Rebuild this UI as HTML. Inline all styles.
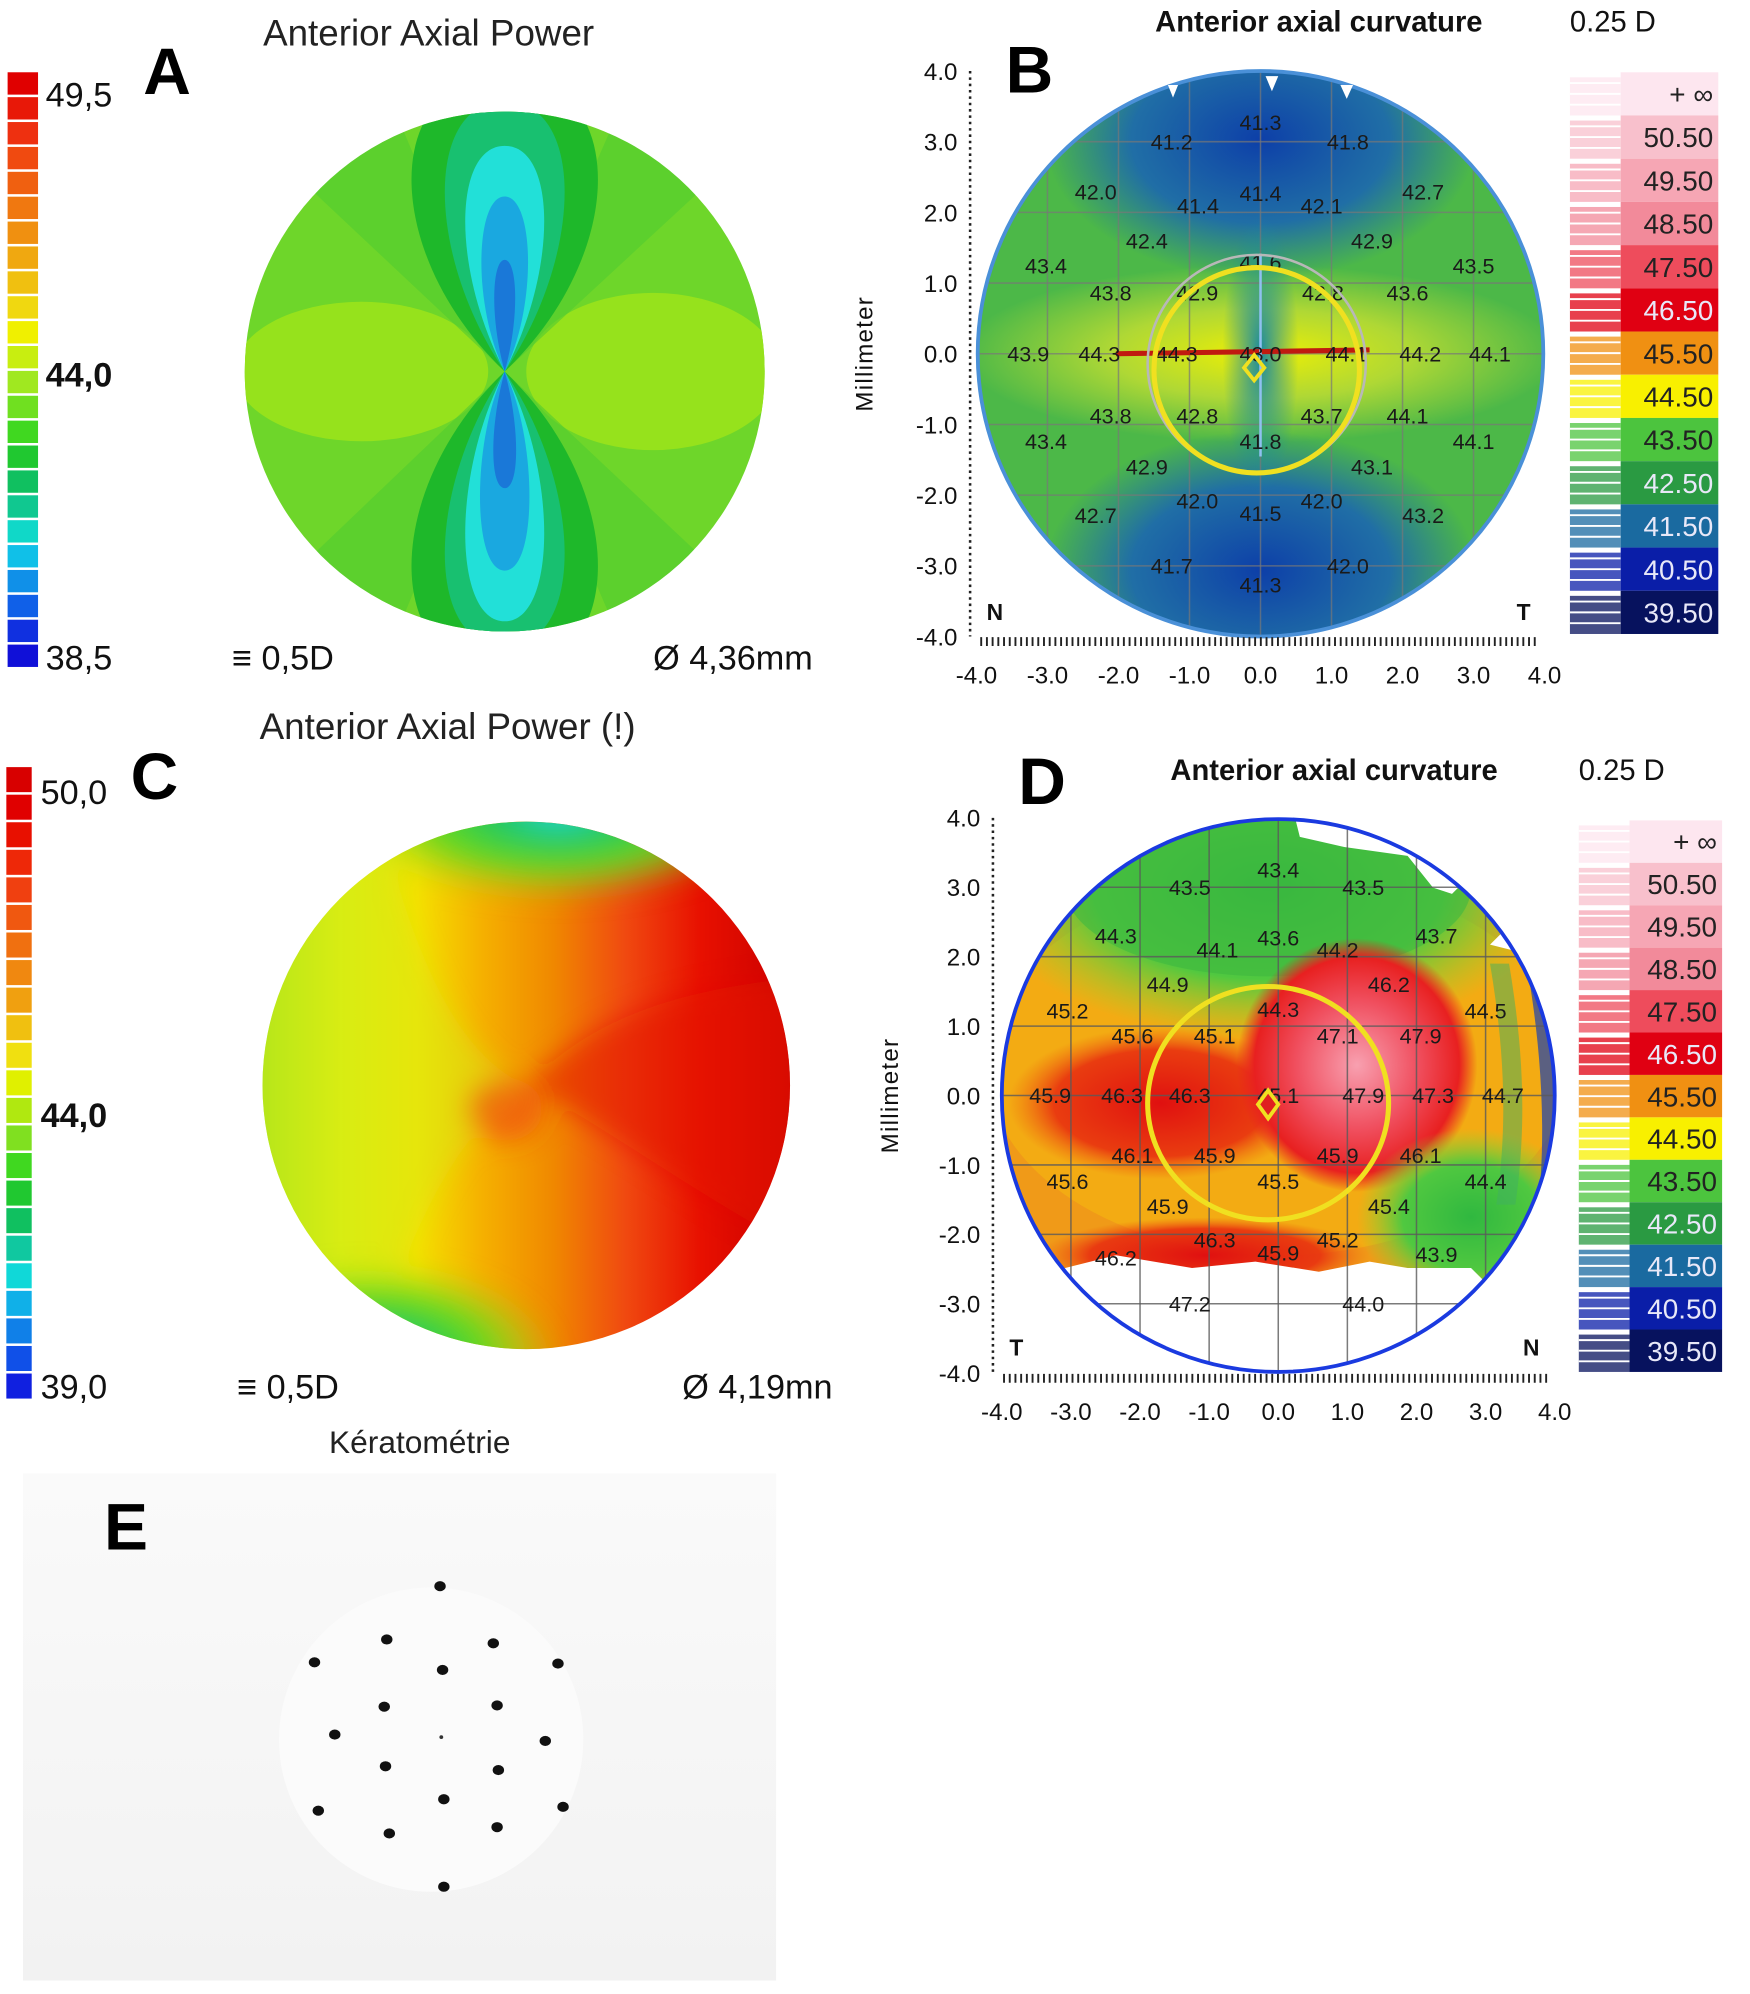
<!DOCTYPE html>
<html><head><meta charset="utf-8">
<style>
html,body{margin:0;padding:0;background:#fff;}
svg{display:block;font-family:"Liberation Sans",sans-serif;}
</style></head>
<body>
<svg id="fig" width="1750" height="1994" viewBox="0 0 1380 1572.6" preserveAspectRatio="none" xmlns="http://www.w3.org/2000/svg">
<defs>
  <clipPath id="clipA"><circle cx="398" cy="293" r="205"/></clipPath>
  <clipPath id="clipB"><circle cx="994" cy="279" r="223"/></clipPath>
  <clipPath id="clipC"><circle cx="415" cy="856" r="208"/></clipPath>
  <clipPath id="clipD"><circle cx="1008" cy="864" r="218"/></clipPath>
  <filter id="blur6" x="-20%" y="-20%" width="140%" height="140%"><feGaussianBlur stdDeviation="10"/></filter>
  <radialGradient id="gBlue"><stop offset="0" stop-color="#0d3fa8"/><stop offset="0.6" stop-color="#1b66b0" stop-opacity="0.9"/><stop offset="1" stop-color="#1b66b0" stop-opacity="0"/></radialGradient>
  <radialGradient id="gYel"><stop offset="0" stop-color="#f0f000"/><stop offset="0.5" stop-color="#c8e030" stop-opacity="0.8"/><stop offset="1" stop-color="#c8e030" stop-opacity="0"/></radialGradient>
  <radialGradient id="gTeal"><stop offset="0" stop-color="#1a8aa0"/><stop offset="1" stop-color="#1a8aa0" stop-opacity="0"/></radialGradient>
  <radialGradient id="gGreen"><stop offset="0" stop-color="#30b840"/><stop offset="0.6" stop-color="#50c840"/><stop offset="1" stop-color="#90d830" stop-opacity="0"/></radialGradient>
  <radialGradient id="gRed"><stop offset="0" stop-color="#e01010"/><stop offset="0.7" stop-color="#e83010" stop-opacity="0.9"/><stop offset="1" stop-color="#f06010" stop-opacity="0"/></radialGradient>
  <radialGradient id="gPink"><stop offset="0" stop-color="#f8a0b0"/><stop offset="0.5" stop-color="#f05060"/><stop offset="0.85" stop-color="#e82020"/><stop offset="1" stop-color="#e82020" stop-opacity="0"/></radialGradient>
  <linearGradient id="gC" x1="0" y1="0" x2="1" y2="0">
    <stop offset="0" stop-color="#90e020"/><stop offset="0.16" stop-color="#d8ee10"/><stop offset="0.3" stop-color="#f5e000"/><stop offset="0.42" stop-color="#f5b000"/>
    <stop offset="0.55" stop-color="#f08800"/><stop offset="0.68" stop-color="#f04a10"/><stop offset="0.82" stop-color="#e81000"/><stop offset="1" stop-color="#c80000"/>
  </linearGradient>
  <radialGradient id="gCgreen"><stop offset="0" stop-color="#20d8e0"/><stop offset="0.3" stop-color="#20c860"/><stop offset="0.6" stop-color="#60d820"/><stop offset="1" stop-color="#a0e020" stop-opacity="0"/></radialGradient>
  <linearGradient id="gE" x1="0" y1="0" x2="0" y2="1"><stop offset="0" stop-color="#fafafa"/><stop offset="1" stop-color="#f2f2f2"/></linearGradient>
</defs>

<!-- ===== Panel A ===== -->
<g>
  <text x="338" y="36" font-size="29" text-anchor="middle" fill="#222">Anterior Axial Power</text>
  <text x="113" y="74" font-size="52" font-weight="bold" fill="#000">A</text>
  <g id="barA"></g>
  <text x="36" y="84" font-size="27" fill="#111">49,5</text>
  <text x="36" y="305" font-size="27" font-weight="bold" fill="#111">44,0</text>
  <text x="36" y="528" font-size="27" fill="#111">38,5</text>
  <g clip-path="url(#clipA)">
    <rect x="190" y="85" width="420" height="420" fill="#6ed62a"/>
    <ellipse cx="285" cy="293" rx="100" ry="55" fill="#96e21c"/>
    <ellipse cx="515" cy="293" rx="100" ry="62" fill="#96e21c"/>
    <path d="M398 293 L150 60 L300 60 Z M398 293 L500 60 L650 60 Z M398 293 L150 530 L300 530 Z M398 293 L500 530 L650 530 Z" fill="#50cc30" opacity="0.6"/>
    <path d="M398 293 C300 200 300 60 398 60 C496 60 496 200 398 293 Z" fill="#1eb82a"/>
    <path d="M398 293 C300 386 300 530 398 530 C496 530 496 386 398 293 Z" fill="#1eb82a"/>
    <path d="M398 293 C335 200 335 80 398 80 C461 80 461 200 398 293 Z" fill="#18c070"/>
    <path d="M398 293 C335 386 335 510 398 510 C461 510 461 386 398 293 Z" fill="#18c070"/>
    <path d="M398 293 C355 210 358 115 398 115 C438 115 441 210 398 293 Z" fill="#22e0d8"/>
    <path d="M398 293 C355 376 358 490 398 490 C438 490 441 376 398 293 Z" fill="#22e0d8"/>
    <path d="M398 293 C372 240 375 155 398 155 C421 155 424 240 398 293 Z" fill="#1aa8e0"/>
    <path d="M398 293 C372 346 372 450 398 450 C424 450 424 346 398 293 Z" fill="#1aa8e0"/>
    <path d="M398 293 C386 250 388 205 398 205 C408 205 410 250 398 293 Z" fill="#1a78d8"/>
    <path d="M398 293 C386 336 386 385 398 385 C410 385 410 336 398 293 Z" fill="#1a78d8"/>
  </g>
  <text x="183" y="528" font-size="27" fill="#111">≡ 0,5D</text>
  <text x="515" y="528" font-size="27" fill="#111">Ø 4,36mm</text>
</g>

<!-- ===== Panel B ===== -->
<g>
  <text x="1040" y="25" font-size="23" font-weight="bold" text-anchor="middle" fill="#111">Anterior axial curvature</text>
  <text x="1238" y="25" font-size="23" fill="#111">0.25 D</text>
  <text x="793" y="73" font-size="52" font-weight="bold" fill="#000">B</text>
  <g clip-path="url(#clipB)">
    <rect x="760" y="50" width="470" height="460" fill="#4cb848"/>
    <ellipse cx="994" cy="279" rx="235" ry="70" fill="url(#gYel)"/>
    <ellipse cx="994" cy="110" rx="170" ry="110" fill="url(#gBlue)"/>
    <ellipse cx="994" cy="450" rx="170" ry="110" fill="url(#gBlue)"/>
    <ellipse cx="994" cy="279" rx="30" ry="110" fill="url(#gTeal)"/>
    <g id="gridB"></g>
    <line x1="880" y1="279" x2="1080" y2="276" stroke="#c01a10" stroke-width="4"/>
    <line x1="994" y1="200" x2="994" y2="360" stroke="#8fc0f0" stroke-width="2"/>
  </g>
  <circle cx="994" cy="279" r="223" fill="none" stroke="#4a90d8" stroke-width="3"/>
  <g id="labelsB"></g>
  <circle cx="991" cy="287" r="86" fill="none" stroke="#b8b8b8" stroke-width="2"/>
  <ellipse cx="991" cy="292" rx="81" ry="81" fill="none" stroke="#f0e020" stroke-width="4"/>
  <path d="M989 280 L997 290 L989 300 L981 290 Z" fill="none" stroke="#f0e020" stroke-width="3"/>
  <path d="M921 67 L929 67 L925 77 Z M998 60 L1008 60 L1003 72 Z M1057 67 L1067 67 L1062 78 Z" fill="#fff"/>
  <text x="778" y="489" font-size="18" font-weight="bold" fill="#111">N</text>
  <text x="1196" y="489" font-size="18" font-weight="bold" fill="#111">T</text>
  <g id="axesB"></g>
  <text transform="translate(688,279) rotate(-90)" font-size="19" text-anchor="middle" fill="#111" letter-spacing="1">Millimeter</text>
  <g id="legendB"></g>
</g>

<!-- ===== Panel C ===== -->
<g>
  <text x="353" y="583" font-size="29" text-anchor="middle" fill="#222">Anterior Axial Power (!)</text>
  <text x="103" y="630" font-size="52" font-weight="bold" fill="#000">C</text>
  <g id="barC"></g>
  <text x="32" y="634" font-size="27" fill="#111">50,0</text>
  <text x="32" y="889" font-size="27" font-weight="bold" fill="#111">44,0</text>
  <text x="32" y="1103" font-size="27" fill="#111">39,0</text>
  <g clip-path="url(#clipC)">
    <rect x="200" y="640" width="430" height="430" fill="url(#gC)"/>
    <g filter="url(#blur6)">
      <path d="M415 856 C360 830 330 760 300 650 L190 650 L190 1070 L290 1070 C320 990 350 900 415 856 Z" fill="#d8ec10" opacity="0.5"/>
      <path d="M415 856 C460 810 520 780 640 770 L640 990 C560 950 480 890 415 856 Z" fill="#e41000" opacity="0.55"/>
      <ellipse cx="398" cy="875" rx="30" ry="25" fill="#f04010" opacity="0.6"/>
      <ellipse cx="440" cy="640" rx="170" ry="70" fill="url(#gCgreen)"/>
      <ellipse cx="290" cy="1070" rx="150" ry="75" fill="url(#gCgreen)"/>
    </g>
  </g>
  <text x="187" y="1103" font-size="27" fill="#111">≡ 0,5D</text>
  <text x="538" y="1103" font-size="27" fill="#111">Ø 4,19mn</text>
  <text x="331" y="1146" font-size="25" text-anchor="middle" fill="#222">Kératométrie</text>
</g>

<!-- ===== Panel D ===== -->
<g>
  <text x="1052" y="615" font-size="23" font-weight="bold" text-anchor="middle" fill="#111">Anterior axial curvature</text>
  <text x="1245" y="615" font-size="23" fill="#111">0.25 D</text>
  <text x="803" y="634" font-size="52" font-weight="bold" fill="#000">D</text>
  <g clip-path="url(#clipD)">
    <rect x="780" y="640" width="460" height="450" fill="#f09a18"/>
    <ellipse cx="1008" cy="840" rx="230" ry="150" fill="#f5b810" opacity="0.6"/>
    <ellipse cx="1000" cy="700" rx="230" ry="120" fill="url(#gGreen)"/>
    <ellipse cx="1000" cy="700" rx="160" ry="70" fill="#40b840" opacity="0.6"/>
    <ellipse cx="915" cy="870" rx="120" ry="60" fill="url(#gRed)"/>
    <ellipse cx="950" cy="990" rx="130" ry="30" fill="url(#gRed)"/>
    <ellipse cx="1070" cy="840" rx="95" ry="100" fill="url(#gPink)"/>
    <ellipse cx="1160" cy="960" rx="90" ry="70" fill="url(#gGreen)"/>
    <path d="M1200 740 C1212 800 1222 880 1212 960 L1240 960 L1240 720 Z" fill="#1a40b0" opacity="0.7"/>
    <path d="M1190 760 C1200 820 1205 880 1195 950 L1180 950 C1190 880 1185 820 1175 760 Z" fill="#40b060" opacity="0.5"/>
    <path d="M780 995 L840 1000 L880 990 L940 1000 L990 995 L1040 1003 L1080 995 L1110 1000 L1160 1000 L1170 1010 L1240 1010 L1240 1100 L780 1100 Z" fill="#fff"/>
    <path d="M1020 640 L1025 660 L1060 668 L1110 675 L1130 700 L1145 705 L1160 690 L1240 690 L1240 640 Z" fill="#fff"/>
    <path d="M1175 745 L1185 735 L1195 750 Z" fill="#fff"/>
    <g id="gridD"></g>
  </g>
  <circle cx="1008" cy="864" r="218" fill="none" stroke="#1a3ae0" stroke-width="3"/>
  <g id="labelsD"></g>
  <ellipse cx="1000" cy="870" rx="95" ry="92" fill="none" stroke="#f0e020" stroke-width="4"/>
  <path d="M1000 860 L1008 871 L1000 882 L992 871 Z" fill="#e02020" stroke="#f0e020" stroke-width="3"/>
  <text x="796" y="1069" font-size="18" font-weight="bold" fill="#111">T</text>
  <text x="1201" y="1069" font-size="18" font-weight="bold" fill="#111">N</text>
  <g id="axesD"></g>
  <text transform="translate(708,864) rotate(-90)" font-size="19" text-anchor="middle" fill="#111" letter-spacing="1">Millimeter</text>
  <g id="legendD"></g>
</g>

<!-- ===== Panel E ===== -->
<g>
  <rect x="18" y="1162" width="594" height="400" fill="url(#gE)"/>
  <circle cx="340" cy="1372" r="120" fill="#fbfbfb"/>
  <text x="82" y="1222" font-size="52" font-weight="bold" fill="#000">E</text>
  <g id="dotsE"></g>
</g>

<script>
// ---- data ----
const bLabels = ["41.2","41.3","41.8","42.0","41.4","41.4","42.1","42.7","42.4","42.9","43.4","41.6","43.5","43.8","42.9","42.8","43.6","43.9","44.3","44.3","43.0","44.1","44.2","44.1","43.8","42.8","43.7","44.1","43.4","41.8","44.1","42.9","43.1","42.0","41.5","42.0","42.7","43.2","41.7","42.0","41.3"];
const bX = [-1.25,0,1.23,-2.32,-0.88,0,0.86,2.29,-1.6,1.57,-3.02,0,3.0,-2.11,-0.89,0.88,2.07,-3.27,-2.27,-1.18,0,1.21,2.25,3.23,-2.11,-0.89,0.86,2.07,-3.02,0,3.0,-1.6,1.57,-0.89,0,0.86,-2.32,2.29,-1.25,1.23,0];
const bY = [3.0,3.27,3.0,2.29,2.09,2.27,2.09,2.29,1.6,1.6,1.24,1.29,1.24,0.86,0.86,0.86,0.86,0,0,0,0,0,0,0,-0.88,-0.88,-0.88,-0.88,-1.24,-1.24,-1.24,-1.6,-1.6,-2.08,-2.26,-2.08,-2.29,-2.29,-3.0,-3.0,-3.27];
const dLabels = ["43.4","43.5","43.5","44.3","44.1","43.6","44.2","43.7","44.9","46.2","45.2","44.3","44.5","45.6","45.1","47.1","47.9","45.9","46.3","46.3","45.1","47.9","47.3","44.7","46.1","45.9","45.9","46.1","45.6","45.5","44.4","45.9","45.4","46.3","45.2","45.9","46.2","43.9","47.2","44.0"];
const dX = [0,-1.28,1.23,-2.35,-0.88,0,0.86,2.29,-1.6,1.6,-3.05,0,3.0,-2.11,-0.92,0.86,2.06,-3.3,-2.26,-1.28,0,1.23,2.24,3.25,-2.11,-0.92,0.86,2.06,-3.05,0,3.0,-1.6,1.6,-0.92,0.86,0,-2.35,2.29,-1.28,1.23];
const dY = [3.25,3.0,3.0,2.3,2.1,2.27,2.1,2.3,1.6,1.6,1.22,1.24,1.22,0.86,0.86,0.86,0.86,0,0,0,0,0,0,0,-0.86,-0.86,-0.86,-0.86,-1.24,-1.24,-1.24,-1.6,-1.6,-2.08,-2.08,-2.27,-2.34,-2.29,-3.0,-3.0];
const axisTicks = [-4,-3,-2,-1,0,1,2,3,4];
const axisTickLabels = ["-4.0","-3.0","-2.0","-1.0","0.0","1.0","2.0","3.0","4.0"];
const legendLabels = ["+ ∞","50.50","49.50","48.50","47.50","46.50","45.50","44.50","43.50","42.50","41.50","40.50","39.50"];
const legendColors = ["#fde6ef","#f8c0cc","#f6a6b4","#f28a9a","#ee4c5c","#e00012","#f09012","#f8f000","#4cc43e","#2a9a42","#1a6aa0","#0a1ea8","#07125e"];
const scaleAColors = ["#e00000","#e81808","#ee3010","#f04a10","#f06010","#f07810","#f09010","#f0a810","#f0c010","#f0d810","#f0f000","#c8ee10","#a0e820","#70e020","#40d820","#20c830","#10c060","#10c890","#10d8c8","#10c0e8","#1090e8","#1060e8","#1030e0","#1010d8"];
const scaleCColors = ["#d80000","#e00000","#e81000","#ee2808","#f04010","#f05810","#f07010","#f08810","#f0a010","#f0c010","#f0e010","#e0f000","#b0e810","#80e020","#40d820","#20c830","#10c060","#10c8a0","#10d8d8","#10b0e8","#1080e8","#1050e8","#1020e0"];
const dotsEx = [347,305,389,248,440,349,303,392,264,430,304,393,251,350,444,307,392,350];
const dotsEy = [1251,1293,1296,1311,1312,1317,1346,1345,1368,1373,1393,1396,1428,1419,1425,1446,1441,1488];

const NS = "http://www.w3.org/2000/svg";
function mk(tag, attrs, parent){const e=document.createElementNS(NS,tag);for(const k in attrs)e.setAttribute(k,attrs[k]);parent.appendChild(e);return e;}

function colorBar(id,colors,x,y0,y1,w){
  const g=document.getElementById(id);const h=(y1-y0)/colors.length;
  colors.forEach((c,i)=>{const r=mk("rect",{x:x,y:y0+i*h,width:w,height:h-2,fill:c},g);
    
    });
}
colorBar("barA",scaleAColors,6,57,528,24);
colorBar("barC",scaleCColors,5,605,1105,20);

function mapPanel(cfg){
  const sx=v=>cfg.cx+v*cfg.kx, sy=v=>cfg.cy-v*cfg.ky;
  const grid=document.getElementById(cfg.grid);
  axisTicks.forEach(t=>{
    mk("line",{x1:sx(t),y1:sy(4.2),x2:sx(t),y2:sy(-4.2),stroke:cfg.gridCol,"stroke-width":1.2},grid);
    mk("line",{x1:sx(-4.2),y1:sy(t),x2:sx(4.2),y2:sy(t),stroke:cfg.gridCol,"stroke-width":1.2},grid);
  });
  const lg=document.getElementById(cfg.labels);
  cfg.vals.forEach((v,i)=>{const t=mk("text",{x:sx(cfg.xs[i]),y:sy(cfg.ys[i])+6,"font-size":17,"text-anchor":"middle",fill:"#1a1a1a"},lg);
    t.textContent=v;
    
    });
  const ax=document.getElementById(cfg.axes);
  const xa=cfg.ax, ya=sy(-4)+4;
  mk("line",{x1:xa,y1:sy(4),x2:xa,y2:sy(-4),stroke:"#222","stroke-width":2,"stroke-dasharray":"2,3"},ax);
  mk("line",{x1:xa+8,y1:ya,x2:sx(4)-5,y2:ya,stroke:"#222","stroke-width":7,"stroke-dasharray":"1.5,3"},ax);
  axisTicks.forEach((t,i)=>{
    const a=mk("text",{x:sx(t),y:ya+33,"font-size":19,"text-anchor":"middle",fill:"#111"},ax);a.textContent=axisTickLabels[i];
    
    
    const b=mk("text",{x:xa-10,y:sy(t)+7,"font-size":19,"text-anchor":"end",fill:"#111"},ax);b.textContent=axisTickLabels[i];
    
    
  });
  const leg=document.getElementById(cfg.legend);
  const h=(cfg.ly1-cfg.ly0)/legendLabels.length;
  legendLabels.forEach((l,i)=>{
    const y=cfg.ly0+i*h;
    mk("rect",{x:cfg.lx,y:y+4,width:40,height:h-4,fill:legendColors[i],opacity:0.75},leg);
    for(let k=1;k<4;k++) mk("line",{x1:cfg.lx,y1:y+k*h/4,x2:cfg.lx+40,y2:y+k*h/4,stroke:"#fff","stroke-width":1.5},leg);
    const r=mk("rect",{x:cfg.lx+40,y:y,width:cfg.lw-40,height:h,fill:legendColors[i]},leg);
    
    
    const dark=i>=9||i==5;
    const t=mk("text",{x:cfg.lx+cfg.lw-4,y:y+h/2+8,"font-size":22,"text-anchor":"end",fill:dark?"#e8e8f8":"#222"},leg);
    t.textContent=l;
    
    
  });
}
mapPanel({cx:994,cy:279,kx:56,ky:55.75,grid:"gridB",gridCol:"rgba(120,120,120,0.7)",labels:"labelsB",vals:bLabels,xs:bX,ys:bY,axes:"axesB",ax:765,legend:"legendB",lx:1238,lw:117,ly0:57,ly1:500});
mapPanel({cx:1008,cy:864,kx:54.5,ky:54.75,grid:"gridD",gridCol:"rgba(90,90,90,0.8)",labels:"labelsD",vals:dLabels,xs:dX,ys:dY,axes:"axesD",ax:783,legend:"legendD",lx:1245,lw:113,ly0:647,ly1:1082});

const de=document.getElementById("dotsE");
dotsEx.forEach((x,i)=>{const c=mk("ellipse",{cx:x,cy:dotsEy[i],rx:4.5,ry:4,fill:"#111"},de);
  
  });
mk("circle",{cx:348,cy:1370,r:1.5,fill:"#333"},de);
</script>
</svg>
</body></html>
